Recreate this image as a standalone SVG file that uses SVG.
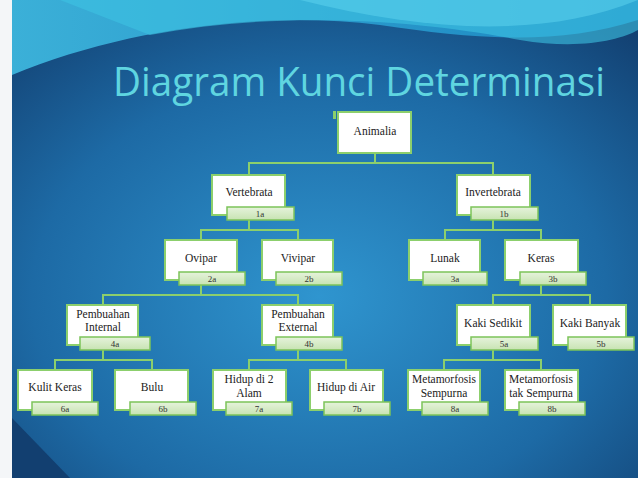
<svg xmlns="http://www.w3.org/2000/svg" width="638" height="478" viewBox="0 0 638 478">
<defs>
<radialGradient id="bg" cx="0.5" cy="0.62" r="0.75">
<stop offset="0" stop-color="#2f95cf"/><stop offset="0.6" stop-color="#1d6aa5"/><stop offset="1" stop-color="#123f70"/>
</radialGradient>
<linearGradient id="lb" x1="0" y1="0" x2="0" y2="1"><stop offset="0" stop-color="#e6f3dc"/><stop offset="1" stop-color="#c7e3b2"/></linearGradient>
<linearGradient id="wave" x1="0" y1="0" x2="1" y2="0"><stop offset="0" stop-color="#3bb0d8"/><stop offset="1" stop-color="#1a85c0"/></linearGradient>
</defs>
<style>
.b{fill:#fff;stroke:#8ccf6c;stroke-width:2}
.l{fill:url(#lb);stroke:#7cc35a;stroke-width:1.5}
.t{font-family:"Liberation Serif",serif;font-size:11.5px;fill:#222;text-anchor:middle}
.s{font-family:"Liberation Serif",serif;font-size:9px;fill:#333;text-anchor:middle}
#conn path{fill:none;stroke:#8ccf6c;stroke-width:2}
</style>
<rect width="638" height="478" fill="url(#bg)"/>
<path d="M12 0H638V20C560 45 480 40 380 25C260 10 120 30 12 75Z" fill="url(#wave)"/>
<path d="M150 35C280 10 420 20 520 40C580 50 620 40 638 30V0H60Z" fill="#3ec3e3" opacity="0.6"/>
<path d="M300 0C420 30 540 40 638 0Z" fill="#5fd6ef" opacity="0.5"/>
<rect x="0" y="0" width="12" height="478" fill="#f4f6f8"/>
<path d="M12 478V418L70 478Z" fill="#123f70"/>
<text x="113" y="96" font-family="Open Sans,sans-serif" font-size="40" fill="#5fd5e0" textLength="492" lengthAdjust="spacingAndGlyphs">Diagram Kunci Determinasi</text>
<rect x="333" y="111" width="3" height="8" fill="#8ccf6c"/>
<g id="conn">
<path d="M375 153V163M249 175V163H493V175"/>
<path d="M249 220V230M201 240V230H298V240"/>
<path d="M493 220V230M445 240V230H541V240"/>
<path d="M201 285V295M103 305V295H298V305"/>
<path d="M541 285V295M493 305V295H590V305"/>
<path d="M103 350V360M55 370V360H152V370"/>
<path d="M298 350V360M249 370V360H346V370"/>
<path d="M493 350V360M444 370V360H541V370"/>
</g>
<g id="animalia"><rect class="b" x="338" y="112" width="73" height="41"/><text class="t" x="375" y="135">Animalia</text></g>
<g id="vertebrata"><rect class="b" x="212" y="175" width="73" height="40"/><rect class="l" x="227" y="207" width="67" height="13"/><text class="t" x="249" y="196">Vertebrata</text><text class="s" x="260" y="217">1a</text></g>
<g id="invertebrata"><rect class="b" x="457" y="175" width="73" height="40"/><rect class="l" x="471" y="207" width="67" height="13"/><text class="t" x="493" y="196">Invertebrata</text><text class="s" x="504" y="217">1b</text></g>
<g id="ovipar"><rect class="b" x="165" y="240" width="72" height="40"/><rect class="l" x="179" y="272" width="66" height="13"/><text class="t" x="201" y="262">Ovipar</text><text class="s" x="212" y="282">2a</text></g>
<g id="vivipar"><rect class="b" x="262" y="240" width="71" height="40"/><rect class="l" x="276" y="272" width="66" height="13"/><text class="t" x="298" y="262">Vivipar</text><text class="s" x="309" y="282">2b</text></g>
<g id="lunak"><rect class="b" x="409" y="240" width="71" height="40"/><rect class="l" x="423" y="272" width="64" height="13"/><text class="t" x="445" y="262">Lunak</text><text class="s" x="455" y="282">3a</text></g>
<g id="keras"><rect class="b" x="505" y="240" width="73" height="40"/><rect class="l" x="520" y="272" width="66" height="13"/><text class="t" x="541" y="262">Keras</text><text class="s" x="553" y="282">3b</text></g>
<g id="pint"><rect class="b" x="67" y="305" width="71" height="40"/><rect class="l" x="80" y="337" width="70" height="13"/><text class="t" x="103" y="318">Pembuahan</text><text class="t" x="103" y="331">Internal</text><text class="s" x="115" y="347">4a</text></g>
<g id="pext"><rect class="b" x="262" y="305" width="71" height="40"/><rect class="l" x="276" y="337" width="66" height="13"/><text class="t" x="298" y="318">Pembuahan</text><text class="t" x="298" y="331">External</text><text class="s" x="309" y="347">4b</text></g>
<g id="ksedikit"><rect class="b" x="457" y="305" width="73" height="40"/><rect class="l" x="471" y="337" width="67" height="13"/><text class="t" x="493" y="327">Kaki Sedikit</text><text class="s" x="504" y="347">5a</text></g>
<g id="kbanyak"><rect class="b" x="553" y="305" width="73" height="40"/><rect class="l" x="568" y="337" width="66" height="13"/><text class="t" x="590" y="327">Kaki Banyak</text><text class="s" x="601" y="347">5b</text></g>
<g id="kulit"><rect class="b" x="18" y="370" width="74" height="40"/><rect class="l" x="32" y="402" width="66" height="13"/><text class="t" x="55" y="391">Kulit Keras</text><text class="s" x="65" y="412">6a</text></g>
<g id="bulu"><rect class="b" x="115" y="370" width="73" height="40"/><rect class="l" x="130" y="402" width="66" height="13"/><text class="t" x="152" y="391">Bulu</text><text class="s" x="163" y="412">6b</text></g>
<g id="h2"><rect class="b" x="213" y="370" width="73" height="40"/><rect class="l" x="226" y="402" width="66" height="13"/><text class="t" x="249" y="383">Hidup di 2</text><text class="t" x="249" y="397">Alam</text><text class="s" x="259" y="412">7a</text></g>
<g id="hair"><rect class="b" x="310" y="370" width="73" height="40"/><rect class="l" x="324" y="402" width="66" height="13"/><text class="t" x="346" y="391">Hidup di Air</text><text class="s" x="357" y="412">7b</text></g>
<g id="ms"><rect class="b" x="408" y="370" width="72" height="40"/><rect class="l" x="422" y="402" width="66" height="13"/><text class="t" x="444" y="383">Metamorfosis</text><text class="t" x="444" y="397">Sempurna</text><text class="s" x="455" y="412">8a</text></g>
<g id="mts"><rect class="b" x="505" y="370" width="73" height="40"/><rect class="l" x="519" y="402" width="66" height="13"/><text class="t" x="541" y="383">Metamorfosis</text><text class="t" x="541" y="397">tak Sempurna</text><text class="s" x="552" y="412">8b</text></g>
</svg>
